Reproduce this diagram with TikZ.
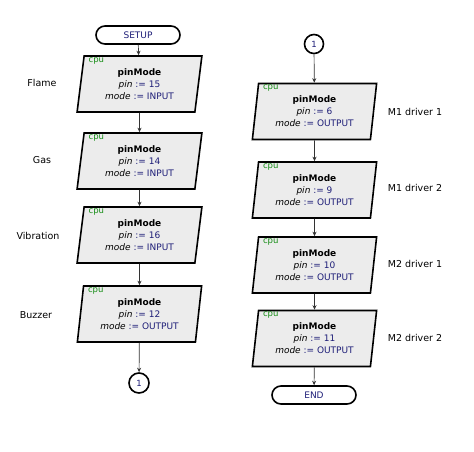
\documentclass[tikz,border=0pt]{standalone}
\usepackage{fontspec}
\setmainfont{DejaVu Sans}
\usetikzlibrary{arrows.meta,shapes.geometric,shapes.misc,calc,positioning}

\definecolor{boxfill}{RGB}{236,236,236}
\definecolor{valblue}{RGB}{30,30,120}
\definecolor{cpugreen}{RGB}{20,140,20}

\tikzset{
  iobox/.style={trapezium, trapezium left angle=82, trapezium right angle=98,
    trapezium stretches=true, draw=black, line width=1.6pt, fill=boxfill,
    minimum width=125pt, minimum height=56pt, inner sep=0pt, align=center,
    font=\fontsize{9}{12}\selectfont},
  terminal/.style={rounded rectangle, draw=black, line width=1.6pt, fill=white,
    minimum width=84pt, minimum height=18pt, inner sep=0pt,
    font=\fontsize{9}{10}\selectfont, text=valblue},
  joint/.style={circle, draw=black, line width=1.6pt, fill=white,
    minimum size=20pt, inner sep=0pt, font=\fontsize{8.5}{10}\selectfont, text=valblue},
  cputag/.style={anchor=north west, inner sep=0pt, text=cpugreen,
    font=\fontsize{8.5}{10}\selectfont},
  side/.style={font=\fontsize{9.5}{11}\selectfont},
  flow/.style={draw=black!80, line width=0.7pt, -{Stealth[length=4.5pt,width=4pt]}}
}

% pinMode block: name, x, y, pin, mode
\newcommand{\pinblock}[5]{%
  \node[iobox] (#1) at (#2,#3) {\textbf{pinMode}\\
    \textit{pin} {\color{valblue}:= #4}\\
    \textit{mode} {\color{valblue}:= #5}};
  \node[cputag] at ($(#1.top left corner)+(5pt,-2pt)$) {cpu};
}

\begin{document}
\begin{tikzpicture}[x=1pt, y=-1pt]
  \useasboundingbox (0,0) rectangle (474,451);

  % left column
  \node[terminal] (setup) at (138,35) {SETUP};
  \pinblock{flame}{139.5}{84}{15}{INPUT}
  \pinblock{gas}{139.5}{161}{14}{INPUT}
  \pinblock{vib}{139.5}{235}{16}{INPUT}
  \pinblock{buzz}{139.5}{314}{12}{OUTPUT}
  \node[joint] (outA) at (139,383) {1};

  \node[side] at (42,83) {Flame};
  \node[side] at (42,160) {Gas};
  \node[side] at (38,236) {Vibration};
  \node[side] at (36,315) {Buzzer};

  % right column
  \node[joint, minimum size=19pt] (inA) at (314,44) {1};
  \pinblock{mA}{314.5}{111.5}{6}{OUTPUT}
  \pinblock{mB}{314.5}{190}{9}{OUTPUT}
  \pinblock{mC}{314.5}{265}{10}{OUTPUT}
  \pinblock{mD}{314.5}{338.5}{11}{OUTPUT}
  \node[terminal] (end) at (314,395) {END};

  \node[side] at (415,112) {M1 driver 1};
  \node[side] at (415,188) {M1 driver 2};
  \node[side] at (415,264) {M2 driver 1};
  \node[side] at (415,338) {M2 driver 2};

  % connectors
  \draw[flow] (setup) -- (flame);
  \draw[flow] (flame) -- (gas);
  \draw[flow] (gas) -- (vib);
  \draw[flow] (vib) -- (buzz);
  \draw[flow] (buzz) -- (outA);
  \draw[flow] (inA) -- (mA);
  \draw[flow] (mA) -- (mB);
  \draw[flow] (mB) -- (mC);
  \draw[flow] (mC) -- (mD);
  \draw[flow] (mD) -- (end);
\end{tikzpicture}
\end{document}
